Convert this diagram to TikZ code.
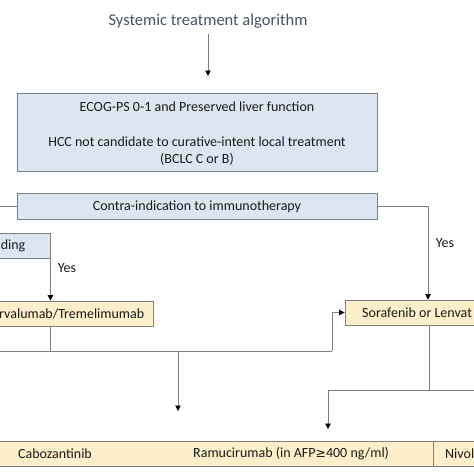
\documentclass[tikz,border=0pt]{standalone}
\usepackage{fontspec}
\setmainfont{Carlito}
\newfontfamily\symfont{DejaVu Sans}
\usetikzlibrary{arrows.meta}
\definecolor{boxblue}{HTML}{DCE6F2}
\definecolor{boxyellow}{HTML}{FDEFC9}
\definecolor{edgegray}{HTML}{7F7F7F}
\definecolor{titleblue}{HTML}{44546A}
\definecolor{txt}{HTML}{1A1A1A}
\tikzset{
  box/.style={draw=edgegray, line width=0.9pt, inner sep=0pt, text=txt,
    font=\fontsize{14}{17}\selectfont},
  bluebox/.style={box, fill=boxblue},
  yellowbox/.style={box, fill=boxyellow},
  conn/.style={draw=edgegray, line width=0.9pt},
  arr/.style={conn, -{Triangle[width=5.5pt,length=5.5pt,color=black,fill=black]}},
  lbl/.style={inner sep=0pt, text=txt, font=\fontsize{14}{17}\selectfont},
}
\begin{document}
\begin{tikzpicture}[x=1pt,y=-1pt]
\useasboundingbox (0,0) rectangle (474,474);
\clip (0,0) rectangle (474,474);
\fill[white] (0,0) rectangle (474,474);

% title
\node[inner sep=0pt, text=titleblue, font=\fontsize{16.5}{18}\selectfont] (title) at (208,21.5) {Systemic treatment algorithm};
\coordinate (t1) at (208,76);

% main boxes
\node[bluebox, minimum width=360pt, minimum height=78pt] (b1) at (197,132) {};
\node[lbl, align=center] (b1txt) at (197,134)
  {ECOG-PS 0-1 and Preserved liver function\\[18pt]HCC not candidate to curative-intent local treatment\\(BCLC C or B)};
\node[bluebox, minimum width=360pt, minimum height=26pt] (b2) at (197,206) {};
\node[lbl] (b2txt) at (197,207) {Contra-indication to immunotherapy};

% left branch
\node[bluebox, minimum width=110pt, minimum height=25pt] (bleed) at (-5,245.5) {};
\node[lbl, anchor=east] (bleedtxt) at (25.5,246) {ding};
\node[yellowbox, minimum width=253pt, minimum height=25pt] (durva) at (26.5,313.5) {};
\node[lbl, anchor=west] (durvatxt) at (-1,314) {rvalumab/Tremelimumab};

% right branch
\node[yellowbox, minimum width=215pt, minimum height=25pt] (sora) at (452.5,312.5) {};
\node[lbl, anchor=west] (soratxt) at (362,313) {Sorafenib or Lenvat};

% bottom box
\node[yellowbox, minimum width=580pt, minimum height=25pt] (bottom) at (270,453.5) {};
\draw[conn] (433,441) -- (433,466);
\node[lbl, anchor=west] (cabo) at (18,454) {Cabozantinib};
\node[lbl, anchor=west] (ramu) at (193,454) {Ramucirumab (in AFP{\symfont\fontsize{12.5}{14}\selectfont ≥}400 ng/ml)};
\node[lbl, anchor=west] (nivo) at (445,454) {Nivol};

% coordinates
\coordinate (lft) at (-10,206);
\coordinate (xr) at (428,0);
\coordinate (j1) at (50,351);
\coordinate (jl) at (-10,351);
\coordinate (jr) at (332,351);
\coordinate (a1s) at (178,351);
\coordinate (a1e) at (178,411);
\coordinate (s1) at (429,390);
\coordinate (hl) at (328,390);
\coordinate (hr) at (490,390);
\coordinate (a2e) at (328,429);

% connectors
\draw[arr] (title.south) ++(0,5) -- (t1);
\draw[conn] (b2.west) -- (lft);
\draw[arr] (b2.east) -| (sora.north -| xr);
\node[lbl] (yes1) at (445,243) {Yes};
\draw[arr] (bleed.south east) -- (bleed.south east |- durva.north);
\node[lbl] (yes2) at (67,268) {Yes};
\draw[conn] (durva.south -| j1) -- (j1);
\draw[conn] (jl) -- (jr);
\draw[arr] (jr) |- (sora.west);
\draw[arr] (a1s) -- (a1e);
\draw[conn] (sora.south -| s1) -- (s1);
\draw[conn] (hl) -- (hr);
\draw[arr] (hl) -- (a2e);
\end{tikzpicture}
\end{document}
